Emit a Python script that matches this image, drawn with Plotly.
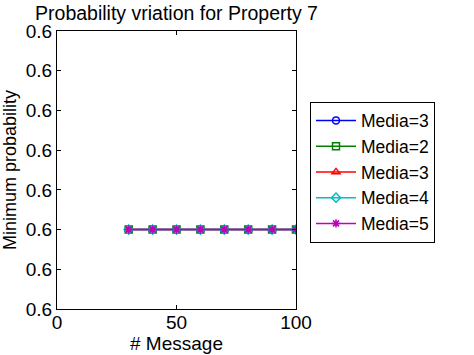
import plotly.graph_objects as go

messages = [30, 40, 50, 60, 70, 80, 90, 100]
series_names = ["Media=3", "Media=2", "Media=3", "Media=4", "Media=5"]
series_values = [
    [0.6] * 8,
    [0.6] * 8,
    [0.6] * 8,
    [0.6] * 8,
    [0.6] * 8,
]
colors = ["#0000FF", "#008000", "#FF0000", "#00BFBF", "#BF00BF"]
symbols = ["circle-open", "square-open", "triangle-up-open", "diamond-open", "asterisk-open"]

d = 1e-6
y_tickvals = [0.6 + k * d for k in range(-2, 6)]
y_ticktext = ["0.6"] * 8
x_tickvals = [0, 50, 100]
x_ticktext = ["0", "50", "100"]

fig = go.Figure()
for name, vals, c, s in zip(series_names, series_values, colors, symbols):
    fig.add_trace(go.Scatter(
        x=messages, y=vals, name=name, mode="lines+markers",
        line=dict(color=c, width=1.5),
        marker=dict(symbol=s, size=7, color=c, line=dict(color=c, width=1.5)),
    ))

font = "Liberation Sans, Arial, sans-serif"
L, R, T, B = 57, 296, 31, 309
fig.update_layout(
    width=474, height=355,
    margin=dict(l=L, r=474 - R, t=T, b=355 - B, autoexpand=False),
    paper_bgcolor="white", plot_bgcolor="white",
    font=dict(family=font, color="black", size=18),
    title=dict(text="Probability vriation for Property 7", x=(L + R) / 2 / 474, xanchor="center",
               y=1 - 13 / 355, yanchor="middle", font=dict(size=19.5), automargin=False),
    showlegend=True,
    legend=dict(x=(310 - L) / (R - L), y=(B - 172) / (B - T), xanchor="left", yanchor="middle",
                bordercolor="black", borderwidth=1, bgcolor="white",
                font=dict(size=17.5), tracegroupgap=0, itemwidth=40),
    xaxis=dict(range=[0, 100], tickvals=x_tickvals, ticktext=x_ticktext, automargin=False,
               ticks="inside", ticklen=4, tickcolor="black", showgrid=False, zeroline=False,
               showline=True, linecolor="black", linewidth=1, mirror="ticks",
               tickfont=dict(size=19), ticklabelstandoff=-4,
               title=dict(text="# Message", font=dict(size=19), standoff=0)),
    yaxis=dict(range=[0.6 - 2 * d, 0.6 + 5 * d], tickvals=y_tickvals, ticktext=y_ticktext,
               automargin=False,
               ticks="inside", ticklen=4, tickcolor="black", showgrid=False, zeroline=False,
               showline=True, linecolor="black", linewidth=1, mirror="ticks",
               tickfont=dict(size=19),
               title=dict(text="Minimum probability", font=dict(size=18), standoff=4)),
)
fig.write_html("out.html", config={"displayModeBar": False},
               post_script="document.body.style.margin='0';")
